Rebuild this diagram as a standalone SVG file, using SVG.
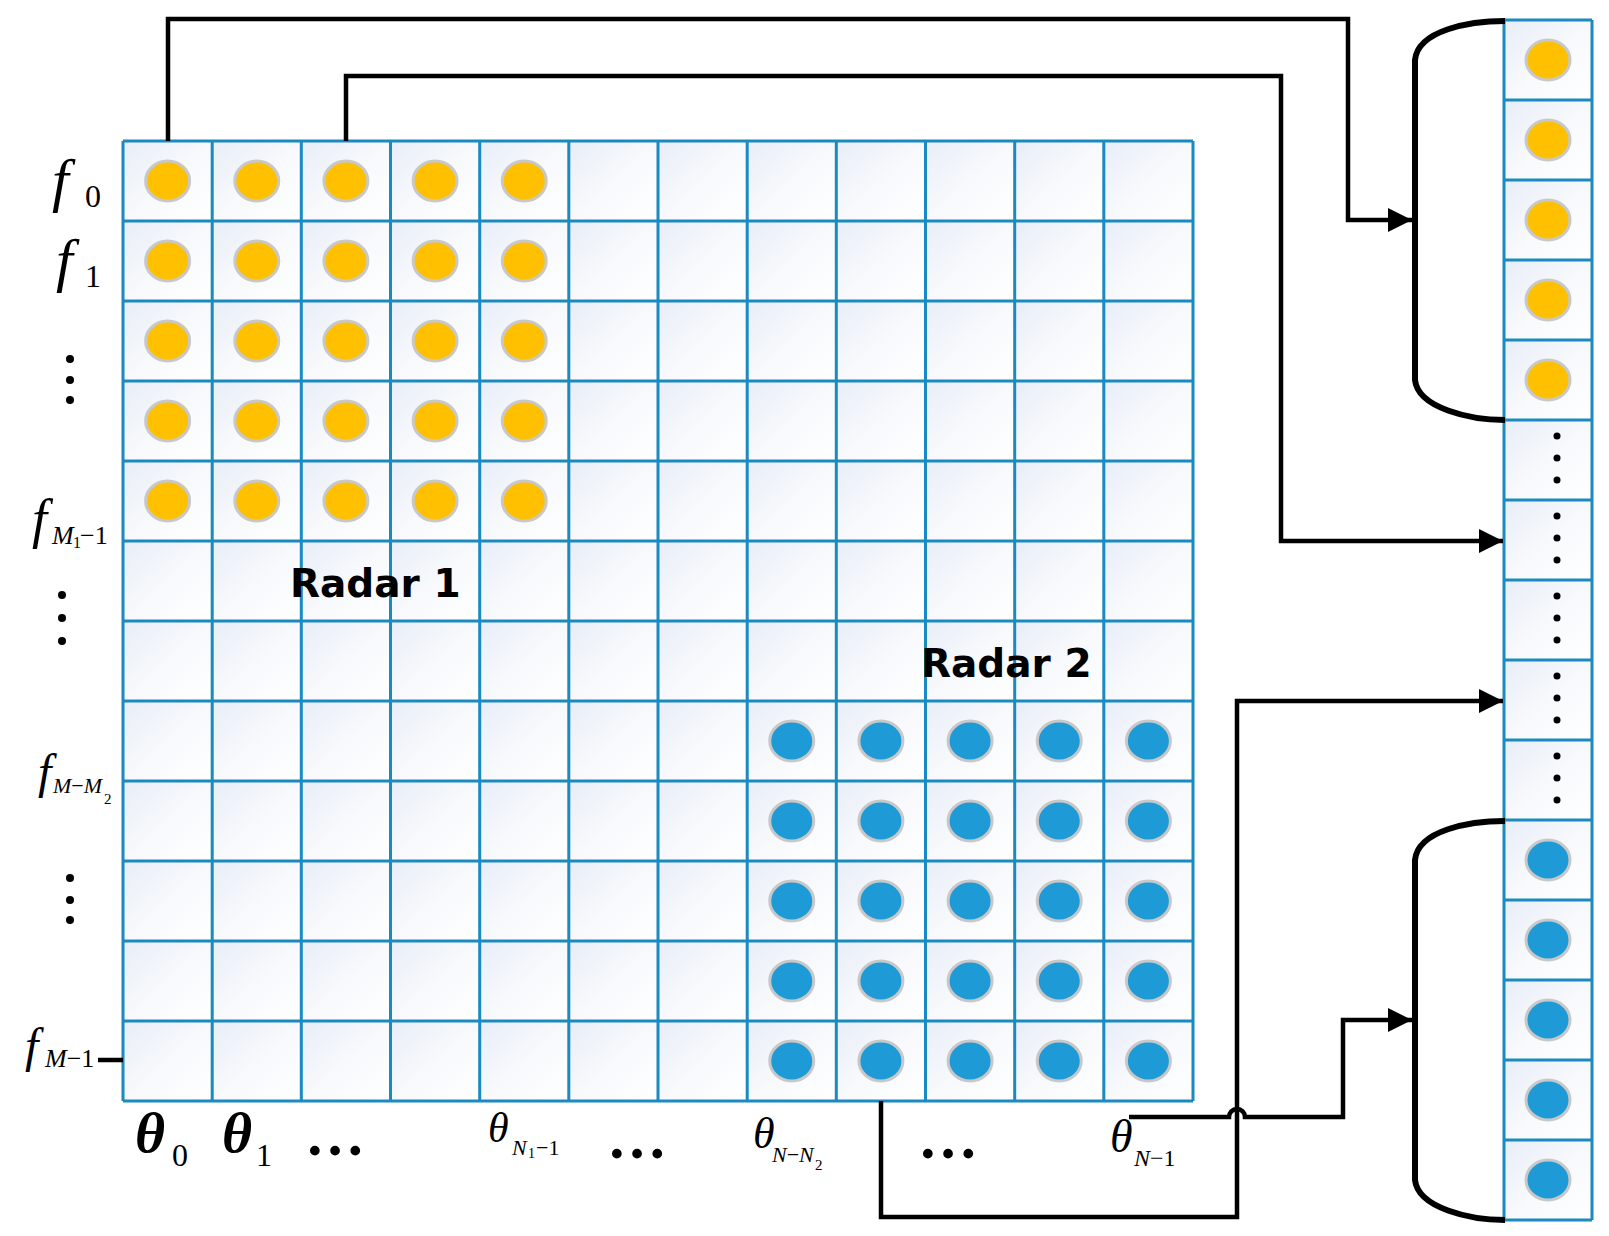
<svg xmlns="http://www.w3.org/2000/svg" width="1609" height="1236" viewBox="0 0 1609 1236">
<defs>
<linearGradient id="cg" x1="0" y1="0" x2="1" y2="1"><stop offset="0" stop-color="#E8EDF7"/><stop offset="0.5" stop-color="#F7F9FC"/><stop offset="1" stop-color="#FFFFFF"/></linearGradient>
<pattern id="gp" patternUnits="userSpaceOnUse" x="123" y="141" width="89.1667" height="80"><rect width="89.1667" height="80" fill="url(#cg)"/></pattern>
<pattern id="rp" patternUnits="userSpaceOnUse" x="1504" y="20" width="88" height="80"><rect width="88" height="80" fill="url(#cg)"/></pattern>
<marker id="ah" markerUnits="userSpaceOnUse" markerWidth="26" markerHeight="26" refX="24" refY="12" orient="auto"><path d="M0,0 L24,12 L0,24 Z" fill="#000"/></marker>
</defs>
<style>
.gl{stroke:#1A8AC0;stroke-width:3;fill:none}
.o{fill:#FFC000;stroke:#C8C8C8;stroke-width:3}
.b{fill:#1E9BD7;stroke:#C8C8C8;stroke-width:3}
.c{fill:none;stroke:#000;stroke-width:4.5}
.br{fill:none;stroke:#000;stroke-width:6}
.m{font-family:"Liberation Serif",serif;fill:#000}
.r{font-family:"DejaVu Sans",sans-serif;font-weight:bold;font-size:39px;fill:#000}
.dd{font-size:60px;font-weight:bold}
</style>
<rect width="1609" height="1236" fill="#fff"/>
<g id="grid">
<rect x="123" y="141" width="1070" height="960" fill="url(#gp)"/>
<path class="gl" d="M123,141V1101M212.2,141V1101M301.3,141V1101M390.5,141V1101M479.7,141V1101M568.8,141V1101M658,141V1101M747.2,141V1101M836.3,141V1101M925.5,141V1101M1014.7,141V1101M1103.8,141V1101M1193,141V1101M123,141H1193M123,221H1193M123,301H1193M123,381H1193M123,461H1193M123,541H1193M123,621H1193M123,701H1193M123,781H1193M123,861H1193M123,941H1193M123,1021H1193M123,1101H1193"/>
</g>
<g id="radar1">
<g class="o">
<ellipse cx="167.6" cy="181" rx="22" ry="20"/><ellipse cx="256.75" cy="181" rx="22" ry="20"/><ellipse cx="345.9" cy="181" rx="22" ry="20"/><ellipse cx="435.1" cy="181" rx="22" ry="20"/><ellipse cx="524.25" cy="181" rx="22" ry="20"/>
<ellipse cx="167.6" cy="261" rx="22" ry="20"/><ellipse cx="256.75" cy="261" rx="22" ry="20"/><ellipse cx="345.9" cy="261" rx="22" ry="20"/><ellipse cx="435.1" cy="261" rx="22" ry="20"/><ellipse cx="524.25" cy="261" rx="22" ry="20"/>
<ellipse cx="167.6" cy="341" rx="22" ry="20"/><ellipse cx="256.75" cy="341" rx="22" ry="20"/><ellipse cx="345.9" cy="341" rx="22" ry="20"/><ellipse cx="435.1" cy="341" rx="22" ry="20"/><ellipse cx="524.25" cy="341" rx="22" ry="20"/>
<ellipse cx="167.6" cy="421" rx="22" ry="20"/><ellipse cx="256.75" cy="421" rx="22" ry="20"/><ellipse cx="345.9" cy="421" rx="22" ry="20"/><ellipse cx="435.1" cy="421" rx="22" ry="20"/><ellipse cx="524.25" cy="421" rx="22" ry="20"/>
<ellipse cx="167.6" cy="501" rx="22" ry="20"/><ellipse cx="256.75" cy="501" rx="22" ry="20"/><ellipse cx="345.9" cy="501" rx="22" ry="20"/><ellipse cx="435.1" cy="501" rx="22" ry="20"/><ellipse cx="524.25" cy="501" rx="22" ry="20"/>
</g>
<text class="r" x="290" y="597">Radar 1</text>
</g>
<g id="radar2">
<g class="b">
<ellipse cx="791.75" cy="741" rx="22" ry="20"/><ellipse cx="880.9" cy="741" rx="22" ry="20"/><ellipse cx="970.1" cy="741" rx="22" ry="20"/><ellipse cx="1059.25" cy="741" rx="22" ry="20"/><ellipse cx="1148.4" cy="741" rx="22" ry="20"/>
<ellipse cx="791.75" cy="821" rx="22" ry="20"/><ellipse cx="880.9" cy="821" rx="22" ry="20"/><ellipse cx="970.1" cy="821" rx="22" ry="20"/><ellipse cx="1059.25" cy="821" rx="22" ry="20"/><ellipse cx="1148.4" cy="821" rx="22" ry="20"/>
<ellipse cx="791.75" cy="901" rx="22" ry="20"/><ellipse cx="880.9" cy="901" rx="22" ry="20"/><ellipse cx="970.1" cy="901" rx="22" ry="20"/><ellipse cx="1059.25" cy="901" rx="22" ry="20"/><ellipse cx="1148.4" cy="901" rx="22" ry="20"/>
<ellipse cx="791.75" cy="981" rx="22" ry="20"/><ellipse cx="880.9" cy="981" rx="22" ry="20"/><ellipse cx="970.1" cy="981" rx="22" ry="20"/><ellipse cx="1059.25" cy="981" rx="22" ry="20"/><ellipse cx="1148.4" cy="981" rx="22" ry="20"/>
<ellipse cx="791.75" cy="1061" rx="22" ry="20"/><ellipse cx="880.9" cy="1061" rx="22" ry="20"/><ellipse cx="970.1" cy="1061" rx="22" ry="20"/><ellipse cx="1059.25" cy="1061" rx="22" ry="20"/><ellipse cx="1148.4" cy="1061" rx="22" ry="20"/>
</g>
<text class="r" x="921" y="677">Radar 2</text>
</g>
<g id="vector">
<rect x="1504" y="20" width="88" height="1200" fill="url(#rp)"/>
<path class="gl" d="M1504,20V1220M1592,20V1220M1504,20H1592M1504,100H1592M1504,180H1592M1504,260H1592M1504,340H1592M1504,420H1592M1504,500H1592M1504,580H1592M1504,660H1592M1504,740H1592M1504,820H1592M1504,900H1592M1504,980H1592M1504,1060H1592M1504,1140H1592M1504,1220H1592"/>
<g class="o"><ellipse cx="1548" cy="60" rx="22" ry="20"/><ellipse cx="1548" cy="140" rx="22" ry="20"/><ellipse cx="1548" cy="220" rx="22" ry="20"/><ellipse cx="1548" cy="300" rx="22" ry="20"/><ellipse cx="1548" cy="380" rx="22" ry="20"/></g>
<g class="b"><ellipse cx="1548" cy="860" rx="22" ry="20"/><ellipse cx="1548" cy="940" rx="22" ry="20"/><ellipse cx="1548" cy="1020" rx="22" ry="20"/><ellipse cx="1548" cy="1100" rx="22" ry="20"/><ellipse cx="1548" cy="1180" rx="22" ry="20"/></g>
<g fill="#000">
<circle cx="1557" cy="436" r="3.5"/><circle cx="1557" cy="458" r="3.5"/><circle cx="1557" cy="480" r="3.5"/>
<circle cx="1557" cy="516" r="3.5"/><circle cx="1557" cy="538" r="3.5"/><circle cx="1557" cy="560" r="3.5"/>
<circle cx="1557" cy="596" r="3.5"/><circle cx="1557" cy="618" r="3.5"/><circle cx="1557" cy="640" r="3.5"/>
<circle cx="1557" cy="676" r="3.5"/><circle cx="1557" cy="698" r="3.5"/><circle cx="1557" cy="720" r="3.5"/>
<circle cx="1557" cy="756" r="3.5"/><circle cx="1557" cy="778" r="3.5"/><circle cx="1557" cy="800" r="3.5"/>
</g>
<path class="br" d="M1505,21C1470,21 1418,30 1415,60V380C1418,408 1470,420 1505,420"/>
<path class="br" d="M1505,821C1470,821 1418,830 1415,860V1180C1418,1208 1470,1220 1505,1220"/>
</g>
<g id="connectors">
<path class="c" d="M168,141V19H1348V220H1412" marker-end="url(#ah)"/>
<path class="c" d="M346,141V76H1281V541H1503" marker-end="url(#ah)"/>
<path class="c" d="M881,1101V1217H1237V701H1503" marker-end="url(#ah)"/>
<path class="c" d="M1129,1117H1229a8,8 0 0 1 16,0H1343V1020H1412" marker-end="url(#ah)"/>
<path class="c" d="M98,1060H123"/>
</g>
<g id="labels" class="m">
<text x="52" y="200" font-size="60" font-style="italic">f</text><text x="85" y="207" font-size="32">0</text>
<text x="56" y="280" font-size="60" font-style="italic">f</text><text x="85" y="287" font-size="32">1</text>
<g fill="#000"><circle cx="70" cy="359" r="4"/><circle cx="70" cy="380" r="4"/><circle cx="70" cy="400" r="4"/>
<circle cx="62" cy="595" r="4"/><circle cx="62" cy="618" r="4"/><circle cx="62" cy="641" r="4"/>
<circle cx="70" cy="878" r="4"/><circle cx="70" cy="900" r="4"/><circle cx="70" cy="920" r="4"/></g>
<text x="32" y="537" font-size="54" font-style="italic">f</text><text x="52" y="544" font-size="26" font-style="italic">M</text><text x="73" y="548" font-size="16">1</text><text x="80" y="544" font-size="26">−1</text>
<text x="38" y="788" font-size="48" font-style="italic">f</text><text x="53" y="793" font-size="22" font-style="italic">M<tspan font-style="normal">−</tspan>M</text><text x="104" y="804" font-size="15">2</text>
<text x="25" y="1062" font-size="48" font-style="italic">f</text><text x="45" y="1067" font-size="26" font-style="italic">M<tspan font-style="normal">−1</tspan></text>
<text x="135" y="1152" font-size="58" font-style="italic" font-weight="bold">θ</text><text x="172" y="1166" font-size="32">0</text>
<text x="222" y="1152" font-size="58" font-style="italic" font-weight="bold">θ</text><text x="256" y="1166" font-size="32">1</text>
<text class="dd" x="305" y="1155">…</text>
<text x="488" y="1142" font-size="42" font-style="italic">θ</text><text x="512" y="1155" font-size="22" font-style="italic">N</text><text x="528" y="1158" font-size="14">1</text><text x="536" y="1155" font-size="22">−1</text>
<text class="dd" x="607" y="1158">…</text>
<text x="753" y="1148" font-size="44" font-style="italic">θ</text><text x="772" y="1162" font-size="22" font-style="italic">N<tspan font-style="normal">−</tspan>N</text><text x="815" y="1170" font-size="15">2</text>
<text class="dd" x="918" y="1158">…</text>
<text x="1110" y="1152" font-size="46" font-style="italic">θ</text><text x="1134" y="1166" font-size="24" font-style="italic">N<tspan font-style="normal">−1</tspan></text>
</g>
</svg>
